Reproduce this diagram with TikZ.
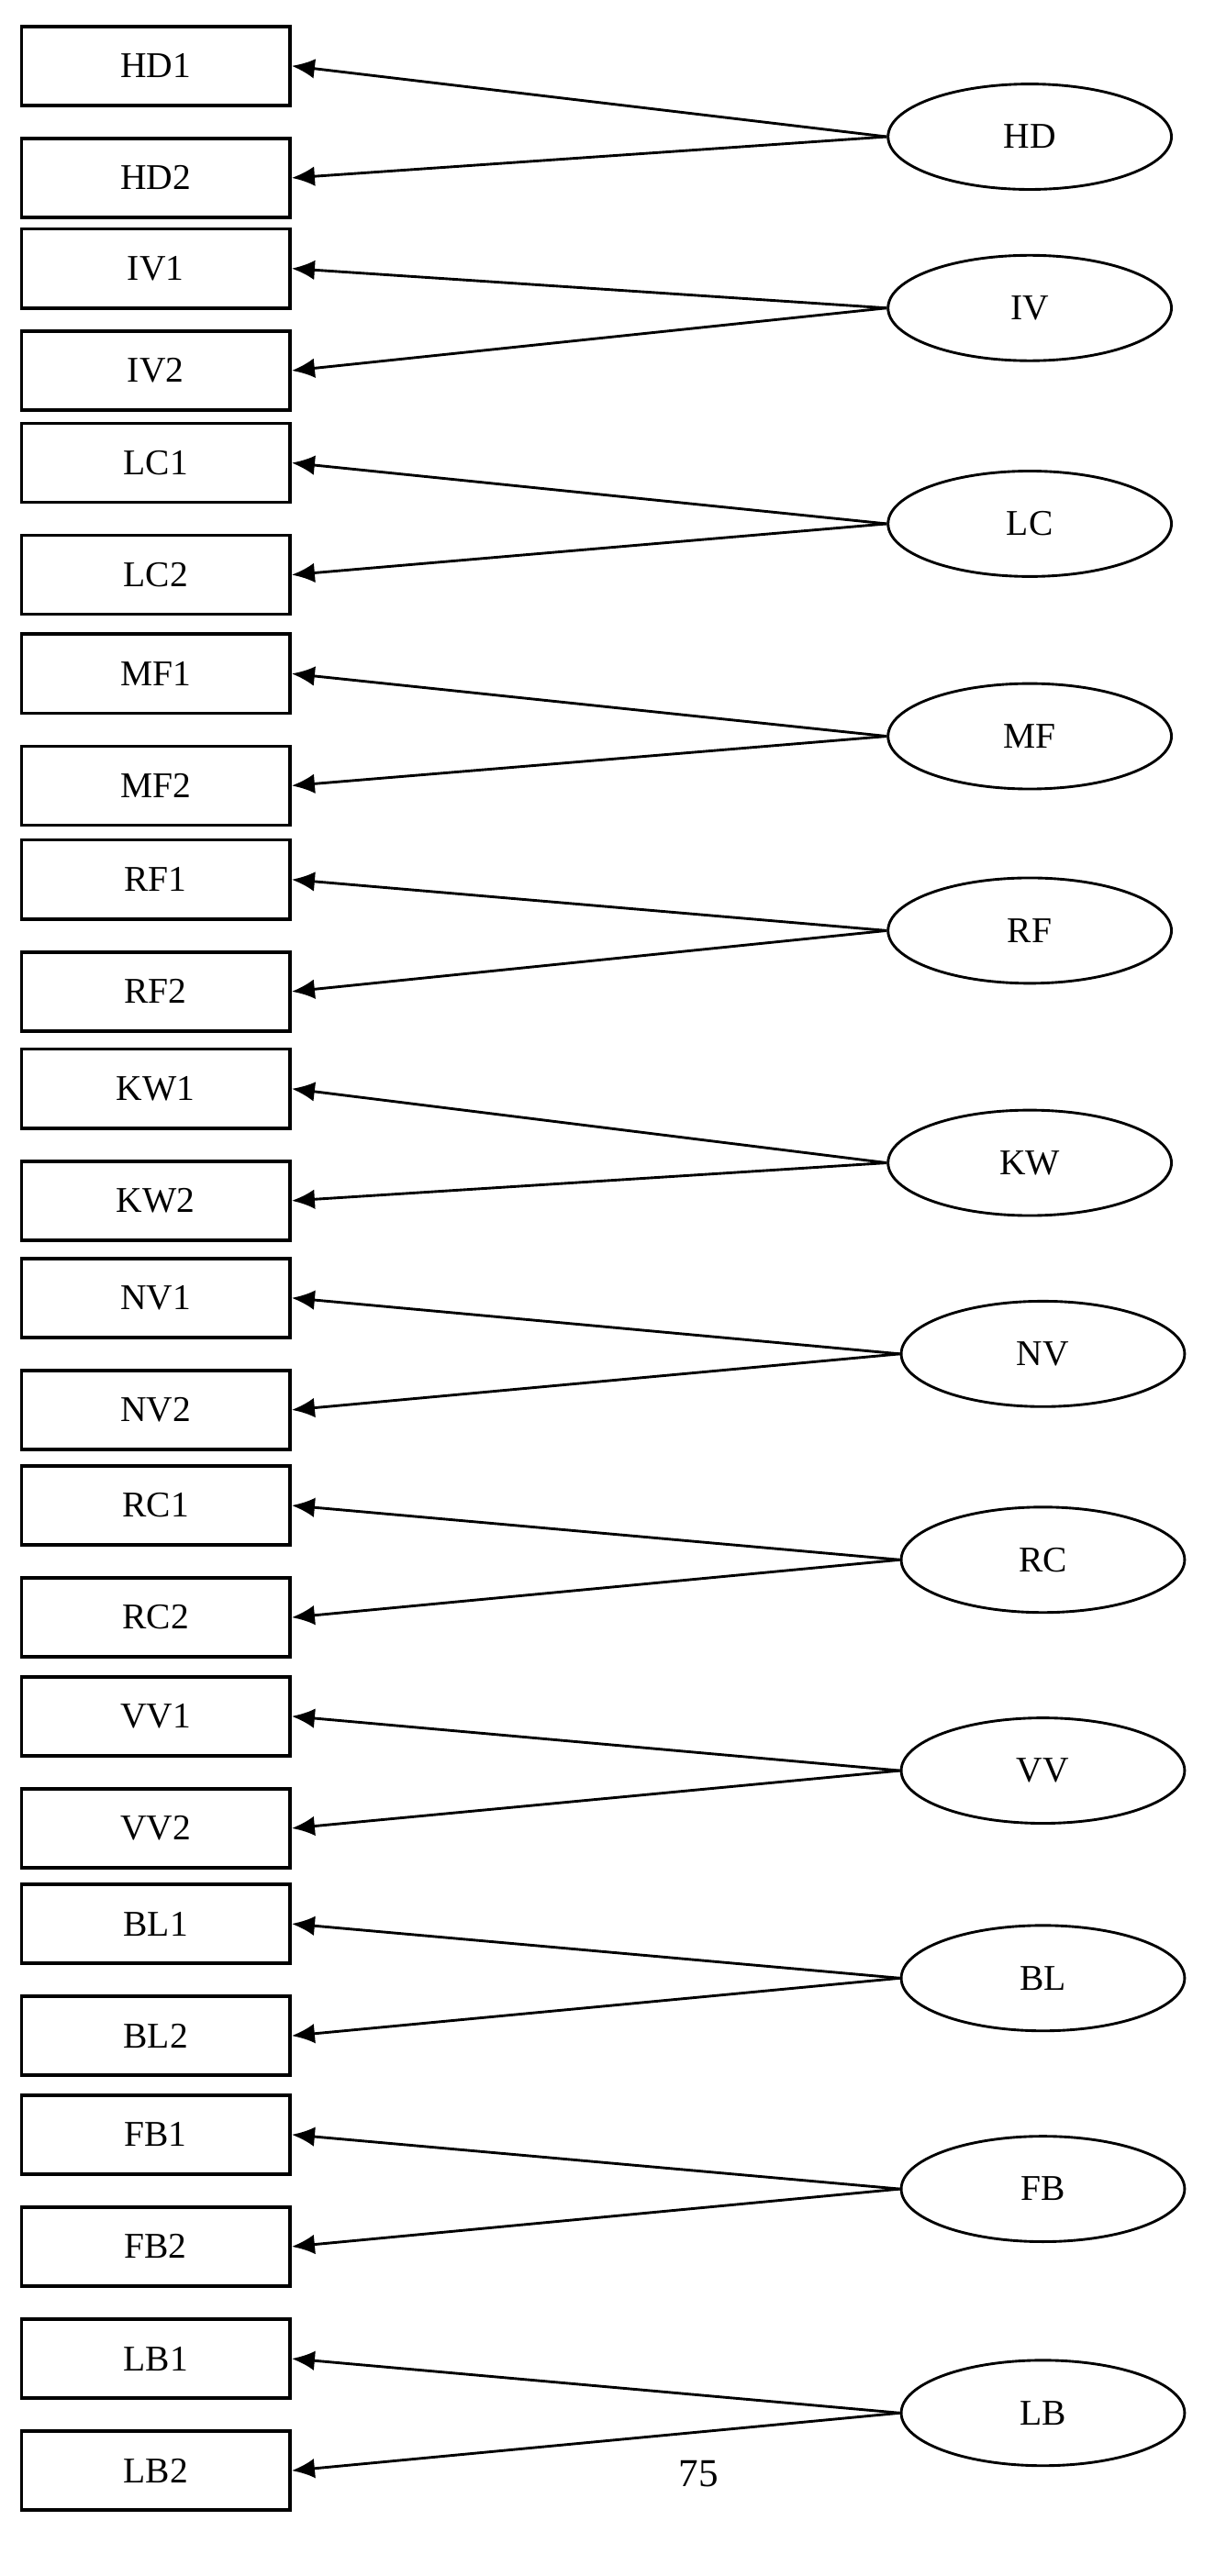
\documentclass[tikz,border=0pt]{standalone}
\usepackage{fontspec}
\setmainfont{Liberation Serif}
\usetikzlibrary{arrows.meta,shapes.geometric}
\begin{document}
\begin{tikzpicture}[x=0.5pt,y=-0.5pt,
  obs/.style={draw,line width=1pt,minimum width=81.5pt,minimum height=24pt,inner sep=0pt,font=\fontsize{11}{13}\selectfont},
  lat/.style={draw,ellipse,line width=0.8pt,minimum width=86pt,minimum height=32pt,inner sep=0pt,font=\fontsize{11}{13}\selectfont},
  arr/.style={-{Latex[length=7pt,width=6pt]},line width=0.8pt}]
\useasboundingbox (0,0) rectangle (737,1564);
\foreach \n/\a/\b/\e/\ex in {HD/40/108/83/625, IV/163/225/187/625, LC/281/349/318/625, MF/409/477/447/625, RF/534/602/565/625, KW/661/729/706/625, NV/788/856/822/633, RC/914/982/947/633, VV/1042/1110/1075/633, BL/1168/1236/1201/633, FB/1296/1364/1329/633, LB/1432/1500/1465/633}{
  \node[obs] (\n1) at (94.5,\a) {\n1};
  \node[obs] (\n2) at (94.5,\b) {\n2};
  \node[lat] (\n) at (\ex,\e) {\n};
  \draw[arr] (\n.west) -- (\n1.east);
  \draw[arr] (\n.west) -- (\n2.east);
}
\node[font=\fontsize{12}{14}\selectfont] (pg) at (424,1502) {75};
\end{tikzpicture}
\end{document}
